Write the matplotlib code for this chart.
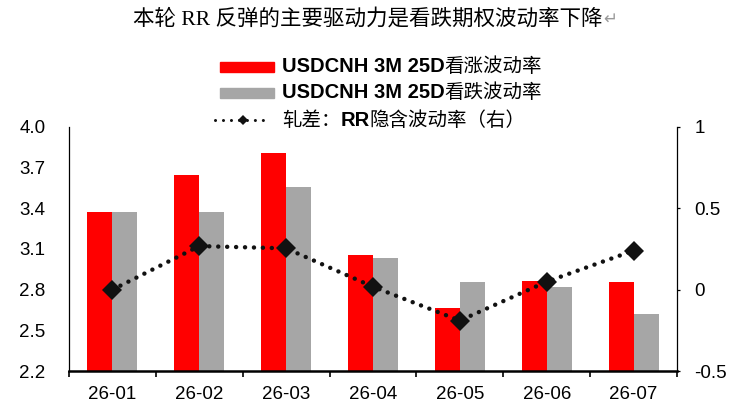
import numpy as np
import matplotlib.pyplot as plt
from matplotlib.patches import Rectangle
from matplotlib.lines import Line2D

# data
months = ['26-01', '26-02', '26-03', '26-04', '26-05', '26-06', '26-07']
call_vol = [3.375, 3.645, 3.81, 3.055, 2.667, 2.866, 2.856]
put_vol = [3.375, 3.375, 3.557, 3.033, 2.856, 2.82, 2.62]
rr_spread = [0.0, 0.268, 0.254, 0.018, -0.19, 0.049, 0.24]

left_ticks = [2.2, 2.5, 2.8, 3.1, 3.4, 3.7, 4.0]
right_ticks = [-0.5, 0, 0.5, 1]
right_labels = ['-0.5', '0', '0.5', '1']

RED = '#FF0000'
GRAY = '#A6A6A6'
DOT = '#111111'
LAT = 'Liberation Sans'
CJK = 'Noto Sans CJK SC'

W, H = 735, 420
fig = plt.figure(figsize=(W / 100, H / 100), dpi=100)
ax = fig.add_axes([69 / W, 49 / H, 608 / W, 244 / H])

x = np.arange(len(months))
bw = 0.288
ax.bar(x - bw / 2, call_vol, bw, color=RED, zorder=2)
ax.bar(x + bw / 2, put_vol, bw, color=GRAY, zorder=2)
ax.set_xlim(-0.5, len(months) - 0.5)
ax.set_ylim(2.2, 4.0)
ax.set_yticks(left_ticks)
ax.set_yticklabels(['%.1f' % v for v in left_ticks])
ax.tick_params(axis='y', length=0, pad=17, labelsize=13.5)
ax.set_xticks(x)
ax.set_xticklabels(months)
ax.tick_params(axis='x', which='major', length=0, pad=11, labelsize=13.5)
ax.set_xticks(np.arange(-0.5, len(months)), minor=True)
ax.tick_params(axis='x', which='minor', length=4.3, width=1.2, direction='out')
for lab in ax.get_xticklabels() + ax.get_yticklabels():
    lab.set_family(LAT)
ax.spines['top'].set_visible(False)
ax.spines['right'].set_visible(False)
ax.spines['left'].set_linewidth(0.9)
ax.spines['bottom'].set_linewidth(1.8)

ax2 = ax.twinx()
ax2.plot(x, rr_spread, color=DOT, lw=3.2, linestyle=(0, (0.01, 2.0)),
         dash_capstyle='round', marker='D', ms=10.5, mew=0, mfc=DOT, zorder=3)
ax2.set_ylim(-0.5, 1)
ax2.set_yticks(right_ticks)
ax2.set_yticklabels(right_labels)
ax2.tick_params(axis='y', length=2.5, width=0.9, direction='out', pad=10, labelsize=13.5)
for lab in ax2.get_yticklabels():
    lab.set_family(LAT)
for s in ['top', 'left', 'bottom']:
    ax2.spines[s].set_visible(False)
ax2.spines['right'].set_linewidth(0.9)

# title
t = fig.text(368 / W, 1 - 19 / H, '本轮 RR 反弹的主要驱动力是看跌期权波动率下降',
             ha='center', va='center', fontsize=15.5,
             family=['Liberation Serif', CJK])
ax.annotate('↵', xy=(1, 0.5), xycoords=t, va='center', ha='left',
            fontsize=12, color='#999999', family=['DejaVu Sans'])


# legend, built by hand so Latin and CJK parts can differ in weight
def legend_row(y, parts):
    s0, fam0, wt0, fs0 = parts[0]
    prev = fig.text(282 / W, y, s0, ha='left', va='center',
                    fontsize=fs0, family=[fam0], weight=wt0)
    for s, fam, wt, fs in parts[1:]:
        prev = ax.annotate(s, xy=(1, 0.5), xycoords=prev, ha='left', va='center',
                           fontsize=fs, family=[fam], weight=wt)


rows = [1 - 67 / H, 1 - 93 / H, 1 - 120 / H]
fig.add_artist(Rectangle((220 / W, rows[0] - 4.5 / H), 54 / W, 9 / H,
                         transform=fig.transFigure, color=RED))
fig.add_artist(Rectangle((220 / W, rows[1] - 4.5 / H), 54 / W, 9 / H,
                         transform=fig.transFigure, color=GRAY))
fig.add_artist(Line2D([215 / W, 270 / W], [rows[2], rows[2]], transform=fig.transFigure,
                      color=DOT, lw=2.2, linestyle=(0, (0.01, 2.6)), dash_capstyle='round'))
fig.add_artist(Line2D([243 / W], [rows[2]], transform=fig.transFigure,
                      marker='D', ms=5.5, mew=0, mfc=DOT, linestyle='none'))
legend_row(rows[0], [('USDCNH 3M 25D', LAT, 'bold', 14.5), ('看涨波动率', CJK, 'normal', 14)])
legend_row(rows[1], [('USDCNH 3M 25D', LAT, 'bold', 14.5), ('看跌波动率', CJK, 'normal', 14)])
legend_row(rows[2], [('轧差：', CJK, 'normal', 14), ('RR', LAT, 'bold', 14.5),
                     ('隐含波动率（右）', CJK, 'normal', 14)])

fig.savefig('out.png', dpi=100)
